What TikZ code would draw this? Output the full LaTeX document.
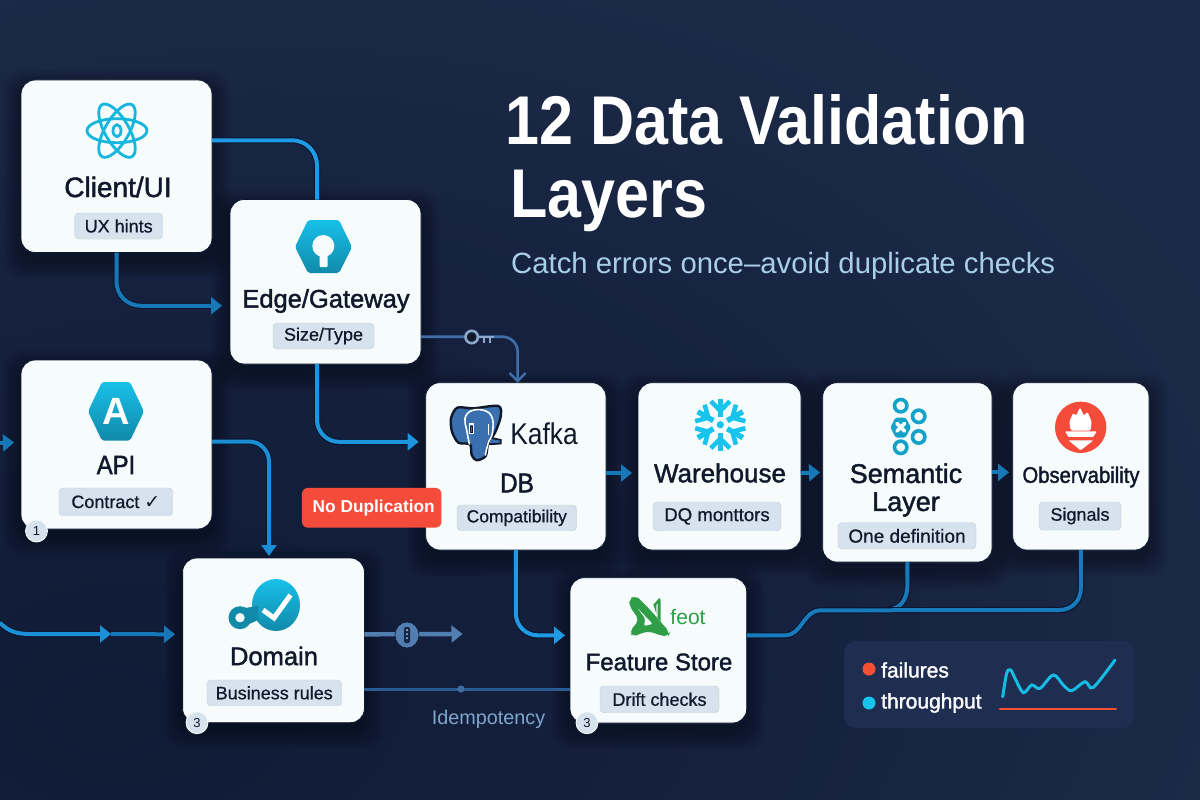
\documentclass[tikz,border=0pt]{standalone}
\usepackage{fontspec}
\setmainfont{Liberation Sans}
\newfontfamily\lab[FakeBold=1.6]{Liberation Sans}
\newfontfamily\labn[FakeBold=1.6,FakeStretch=.9]{Liberation Sans}
\newfontfamily\chipf[FakeBold=.6]{Liberation Sans}
\newfontfamily\titlef[FakeStretch=.885]{Liberation Sans}
\newfontfamily\kaf[FakeStretch=.88]{Liberation Sans}
\newfontfamily\symf{DejaVu Sans}
\usetikzlibrary{calc,arrows.meta,shapes.geometric}
\definecolor{cardc}{HTML}{F6FBFC}
\definecolor{inkc}{HTML}{10182B}
\definecolor{chipc}{HTML}{D6E3EE}
\definecolor{edgec}{HTML}{0C1730}
\definecolor{wa}{HTML}{1E9BE4}
\definecolor{wb}{HTML}{1678B6}
\definecolor{wc}{HTML}{3F6EA8}
\definecolor{wd}{HTML}{2A5A92}
\definecolor{cyanc}{HTML}{18C3EC}
\definecolor{tealc}{HTML}{14A2C8}
\definecolor{redc}{HTML}{F44B3A}
\definecolor{greenc}{HTML}{2F9E46}
\definecolor{pgblue}{HTML}{3A6FB0}
\definecolor{subc}{HTML}{A9CFE8}
\definecolor{idemc}{HTML}{7EA6CC}
\definecolor{panelc}{HTML}{1F2D50}
\pgfdeclareradialshading{bgrad}{\pgfpoint{-21bp}{-20bp}}{%
 rgb(0bp)=(0.062,0.105,0.210);rgb(20bp)=(0.080,0.125,0.240);rgb(40bp)=(0.105,0.165,0.280);rgb(100bp)=(0.112,0.175,0.295)}
\tikzset{
 card/.style={draw=edgec,line width=.8pt,fill=cardc,rounded corners=14pt,inner sep=0pt,outer sep=0pt},
 title/.style={text=inkc,inner sep=0pt,align=center},
 chipstyle/.style={draw=chipc!90!black,line width=.4pt,fill=chipc,rounded corners=4pt,inner sep=0pt,outer sep=0pt,text=inkc,font=\chipf\fontsize{18}{20}\selectfont},
 wire/.style={draw=#1,line width=4pt,preaction={draw=edgec,line width=6.4pt}},
 arrowed/.style={-{Triangle[length=11pt,width=17pt]}},
 badge/.style={circle,fill=chipc,draw=cardc,line width=.8pt,minimum size=22pt,inner sep=0pt,text=inkc,font=\fontsize{13}{14}\selectfont},
 hexfill/.style={top color=cyanc!90!tealc,bottom color=tealc!85!black,draw=none,rounded corners=2pt},
 ringst/.style={draw=tealc,line width=3.6pt},
}
\newcommand\cardbox[5]{\node[card,minimum width={(#4-#2)*1pt},minimum height={(#5-#3)*1pt}] (#1) at ({(#2+#4)/2},{(#3+#5)/2}) {};}
\newcommand\chipbox[6]{\node[chipstyle,minimum width={(#4-#2)*1pt},minimum height={(#5-#3)*1pt}] (#1) at ({(#2+#4)/2},{(#3+#5)/2}) {#6};}
\begin{document}
\begin{tikzpicture}[x=1pt,y=-1pt]
\useasboundingbox (0,0) rectangle (1200,800);
\shade[shading=bgrad] (0,0) rectangle (1200,800);
\foreach \xa/\ya/\xb/\yb in {21/80/212/252.5,230/199.5/421/364,21/360/212/529,182.6/558/364.4/722.7,425.7/382.7/606/550,638/382.7/801/550,822.7/382.7/992/562,1012.7/382.7/1149/550,570/577.7/746.7/723}
 \foreach \k in {1,...,9}
  \fill[black,opacity=.04,rounded corners=18pt] ({\xa-\k*2},{\ya-\k*2+8}) rectangle ({\xb+\k*2},{\yb+\k*2+8});
% cards
\cardbox{client}{21}{80}{212}{252.5}
\cardbox{edge}{230}{199.5}{421}{364}
\cardbox{api}{21}{360}{212}{529}
\cardbox{domain}{182.6}{558}{364.4}{722.7}
\cardbox{db}{425.7}{382.7}{606}{550}
\cardbox{wh}{638}{382.7}{801}{550}
\cardbox{sem}{822.7}{382.7}{992}{562}
\cardbox{obs}{1012.7}{382.7}{1149}{550}
\cardbox{feat}{570}{577.7}{746.7}{723}
% titles
\node[anchor=base west,inner sep=0pt,text=white,font=\titlef\bfseries\fontsize{69}{70}\selectfont] (t1) at (505,144) {12 Data Validation};
\node[anchor=base west,inner sep=0pt,text=white,font=\titlef\bfseries\fontsize{69}{70}\selectfont] (t2) at (510,217) {Layers};
\node[anchor=base west,inner sep=0pt,text=subc,font=\fontsize{29.3}{30}\selectfont] (t3) at (511,273) {Catch errors once–avoid duplicate checks};
% labels
\node[title,font=\lab\fontsize{28}{30}\selectfont] (l1) at (118,187) {Client/UI};
\node[title,font=\lab\fontsize{25.5}{30}\selectfont] (l2) at (326,301) {Edge/Gateway};
\node[title,font=\labn\fontsize{26.5}{30}\selectfont] (l3) at (116,465) {API};
\node[title,font=\lab\fontsize{25.5}{30}\selectfont] (l4) at (274,656) {Domain};
\node[title,font=\labn\fontsize{27}{30}\selectfont] (l5) at (517,483) {DB};
\node[title,font=\lab\fontsize{26}{30}\selectfont] (l6) at (720,473) {Warehouse};
\node[title,font=\lab\fontsize{27}{28}\selectfont] (l7) at (906,490) {Semantic\\Layer};
\node[title,font=\labn\fontsize{22.5}{26}\selectfont] (l8) at (1081,477) {Observability};
\node[title,font=\lab\fontsize{24}{28}\selectfont] (l9) at (659,662) {Feature Store};
% chips
\chipbox{c1}{74.7}{213}{162.7}{239}{UX hints}
\chipbox{c2}{273}{323}{374}{349}{Size/Type}
\chipbox{c3}{59}{488}{172.7}{515.7}{Contract {\symf\fontsize{19}{20}\selectfont ✓}}
\chipbox{c4}{207}{680}{341.5}{705.7}{Business rules}
\chipbox{c5}{457}{505}{576.5}{530.7}{\fontsize{17.5}{20}\selectfont Compatibility}
\chipbox{c6}{653}{502}{781}{530.7}{\fontsize{18.6}{20}\selectfont DQ monttors}
\chipbox{c7}{838}{522.7}{976}{549}{\fontsize{19}{20}\selectfont One definition}
\chipbox{c8}{1039}{502}{1121}{530}{Signals}
\chipbox{c9}{600}{686}{719}{712.7}{Drift checks}
% connectors
\coordinate (a1) at ([shift={(0,-26)}]client.east);
\coordinate (a2) at ([shift={(-8.5,0)}]edge.north);
\draw[wire=wa,rounded corners=25pt] (a1) -| (a2);
\coordinate (b2) at ([shift={(-8,24)}]edge.west);
\draw[wire=wb,arrowed,rounded corners=24pt] (client.south) |- (b2);
\coordinate (c1s) at ([shift={(0,55)}]edge.east);
\coordinate (c1e) at ([shift={(1.8,0)}]db.north);
\draw[draw=wc,line width=2.6pt,-{Straight Barb[length=8pt,width=16pt,line width=2.4pt]},rounded corners=15pt] (c1s) -| (c1e);
\coordinate (d1) at ([shift={(-8.5,0)}]edge.south);
\coordinate (d2) at ([shift={(-7,-24.5)}]db.west);
\draw[wire=wa!85!wb,arrowed,rounded corners=22pt] (d1) |- (d2);
\coordinate (e0) at (0,443);
\coordinate (e1) at ([shift={(-7,-2)}]api.west);
\draw[wire=wb,arrowed] (e0) -- (e1);
\coordinate (f1) at ([shift={(0,-3)}]api.east);
\coordinate (f2) at ([shift={(-4.5,-2)}]domain.north);
\draw[wire=wa!60!wb,-{Triangle[length=11pt,width=15pt]},rounded corners=20pt] (f1) -| (f2);
\coordinate (g0) at (0,622.7);
\coordinate (g1) at (111,634);
\coordinate (g2) at ([shift={(-7.6,-6)}]domain.west);
\draw[wire=wb,arrowed] (g1) -- (g2);
\draw[wire=wa!70!wb,arrowed] (g0) .. controls (8,631) and (16,634) .. (30,634) -- (g1);
\coordinate (h1) at ([shift={(0,-6)}]domain.east);
\coordinate (h2) at (462.5,634);
\draw[draw=wc!90!white,line width=4.4pt,arrowed] (h1) -- (h2);
\node[ellipse,fill=wc!90!white,draw=edgec,line width=.6pt,minimum width=24pt,minimum height=26pt,inner sep=0pt] (hb) at (407,635) {};
\fill[edgec!80!wc,rounded corners=2pt] (404,627) rectangle (410,643);
\fill[cardc!70!wc] (407,630) circle (1) (407,634) circle (1) (407,638) circle (1);
\coordinate (i1) at ([shift={(0,49)}]domain.east);
\draw[draw=wd,line width=3pt] (i1) -- (i1 -| feat.west);
\fill[wd!90!white] (461,689) circle (3.6);
\node[inner sep=0pt,text=idemc,font=\fontsize{19.8}{22}\selectfont] (idem) at (488.5,719) {Idempotency};
\coordinate (j2) at ([shift={(-5,-15)}]feat.west);
\draw[wire=wa,arrowed,rounded corners=22pt] (db.south) |- (j2);
\coordinate (k1) at ([shift={(0,6.7)}]db.east);
\coordinate (k2) at ([shift={(-6,6.7)}]wh.west);
\draw[wire=wb,arrowed] (k1) -- (k2);
\coordinate (m1) at ([shift={(0,6.7)}]wh.east);
\coordinate (m2) at ([shift={(-2.7,0)}]sem.west);
\draw[wire=wb,arrowed] (m1) -- (m2);
\coordinate (n1) at (sem.east);
\coordinate (n2) at ([shift={(-3.7,6)}]obs.west);
\draw[wire=wb,arrowed] (n1) -- (n2);
\draw[wire=wb!90!wa] (sem.south) -- ($(sem.south)+(0,22)$) .. controls ($(sem.south)+(0,40)$) and ($(sem.south)+(-8,48)$) .. ($(sem.south)+(-24,48)$);
\coordinate (p1) at ([shift={(0,-15)}]feat.east);
\draw[wire=wb!90!wa] (p1) -- ($(p1)+(38,0)$) .. controls ($(p1)+(56,0)$) and ($(p1)+(56,-25)$) .. ($(p1)+(74,-25)$) -- ($(obs.south)+(-22,60)$) .. controls ($(obs.south)+(-8,60)$) and ($(obs.south)+(0,50)$) .. ($(obs.south)+(0,38)$) -- (obs.south);
% key on wire
\draw[draw=wc!60!white,line width=2.6pt,fill=edgec!50!wc!40!black] (471.7,337) circle (6.2);
\draw[draw=wc!60!white,line width=2.4pt] (478,337) -- (494,337) (484,337) -- (484,343) (490,337) -- (490,343);
% no duplication
\node[fill=redc,rounded corners=6pt,inner sep=0pt,minimum width=139.5pt,minimum height=39.7pt,text=white,font=\bfseries\fontsize{17.3}{20}\selectfont] (nodup) at (371.7,507.8) {\hspace{4pt}No Duplication};
% badges
\node[badge] (b1) at (36.5,531) {1};
\node[badge] (b3) at (197,722.7) {3};
\node[badge] (b4) at (587,722.7) {3};
% atom icon
\foreach \ang in {0,60,120}
 \draw[draw=tealc!40!cyanc,line width=2.8pt,rotate around={\ang:(117,130.7)}] (117,130.7) ellipse (30 and 12);
\draw[draw=tealc!40!cyanc,line width=2.8pt] (117,130.7) ellipse (4 and 6);
% keyhole hex
\shade[hexfill] (295,247) -- (308,220) -- (339,220) -- (352,247) -- (339,273) -- (308,273) -- cycle;
\fill[cardc] (323.3,246) circle (11);
\fill[cardc,rounded corners=1pt] (319.5,250) rectangle (327.5,267);
% API hex
\shade[hexfill] (88,411.5) -- (102,382) -- (130,382) -- (144,411.5) -- (130,440.7) -- (102,440.7) -- cycle;
\node[inner sep=0pt,text=white,font=\bfseries\fontsize{38}{40}\selectfont] (apia) at (116,411) {A};
% domain icon
\shade[top color=cyanc!90!tealc,bottom color=tealc!85!black] (276,605) ellipse (24 and 26);
\fill[tealc!85!black] (240,617.7) circle (11.5);
\fill[tealc!85!black] (245,608) -- (258,606) -- (258,620) -- (245,626) -- cycle;
\fill[cardc] (240,617.7) circle (4.7);
\draw[white,line width=5pt] (263,610) -- (274,618) -- (290.5,595);
% elephant
\begin{scope}[shift={(420,320)},x=.3333pt,y=-.3333pt]
\draw[draw=inkc,line width=2.4pt,fill=pgblue,line join=round] plot[smooth cycle,tension=.5] coordinates {(93,295) (112,263) (160,265) (235,258) (242,290) (225,338) (205,368) (197,408) (170,421) (155,405) (150,373) (115,368) (96,335)};
\fill[inkc] (210,350) -- (245,358) -- (245,373) -- (200,376) -- cycle;
\fill[pgblue] (214,357) -- (240,362) -- (240,368) -- (208,370) -- cycle;
\draw[white,line width=1.6pt,line cap=round] plot[smooth,tension=.7] coordinates {(148,372) (140,330) (135,295) (155,272) (195,272) (217,295) (217,340) (205,368) (196,405)};
\draw[white,line width=1.3pt] (148,312) rectangle (160,340);
\draw[white,line width=1.3pt] (205,312) -- (205,345);
\draw[inkc,line width=.8pt] (152,318) rectangle (157,336);
\end{scope}
\node[inner sep=0pt,text=inkc,font=\kaf\fontsize{30}{32}\selectfont] (kafka) at (544,434) {Kafka};
% snowflake
\foreach \ang in {0,60,...,300}{
 \begin{scope}[shift={(720.3,424.7)},rotate=\ang]
  \draw[cyanc,line width=5.4pt] (0,-8) -- (0,-26);
  \draw[cyanc,line width=4.6pt] (-9.5,-23.5) -- (0,-14) -- (9.5,-23.5);
 \end{scope}
}
\fill[cardc] (720.3,424.7) circle (6.5);
\fill[cyanc] (720.3,424.7) circle (3.6);
% semantic rings
\foreach \pp in {(900.7,405.7),(918.7,416.3),(918.7,437),(900.7,447.3)}
 \draw[ringst] \pp circle (6.2);
\fill[tealc,rounded corners=1.5pt] (890.5,427.3) -- (895.5,417.5) -- (905.5,417.5) -- (911,427.3) -- (905.5,437.5) -- (895.5,437.5) -- cycle;
\draw[cardc,line width=3.6pt,line cap=round] (897,423.5) -- (904.5,431) (904.5,423.5) -- (897,431);
% prometheus
\fill[redc] (1080.7,427.3) circle (25.7);
\begin{scope}[shift={(1040,390)},x=.3333pt,y=-.3333pt]
\fill[white,rounded corners=1.5pt] (92,122) -- (88,95) -- (100,68) -- (108,78) -- (120,52) -- (132,78) -- (142,65) -- (155,95) -- (152,122) -- cycle;
\fill[white,rounded corners=1pt] (75,124) -- (170,124) -- (160,141) -- (85,141) -- cycle;
\fill[white,rounded corners=1pt] (85,151) -- (160,151) -- (122,181) -- cycle;
\end{scope}
% feast logo
\begin{scope}[shift={(620,590)},x=.3333pt,y=-.3333pt]
\fill[greenc,rounded corners=5pt] (28,28) -- (45,16) -- (62,30) -- (100,70) -- (150,128) -- (145,138) -- (125,138) -- (90,124) -- (60,130) -- (40,142) -- (28,125) -- (58,90) -- (28,48) -- cycle;
\fill[cardc,rounded corners=2pt] (52,54) -- (98,102) -- (72,108) -- (76,86) -- cycle;
\fill[greenc] (100,44) -- (118,24) -- (122,30) -- (122,95) -- (114,85) -- cycle;
\fill[cardc] (109,45) -- (113,41) -- (113,78) -- (109,74) -- cycle;
\end{scope}
\node[inner sep=0pt,text=greenc,font=\fontsize{21}{22}\selectfont] (feot) at (688,617) {feot};
% legend
\fill[panelc,rounded corners=12pt] (844,641) rectangle (1134,728);
\fill[redc!90!orange] (869,669) circle (6.5);
\fill[cyanc] (869,703) circle (6.5);
\node[anchor=west,inner sep=0pt,text=white!90!chipc,font=\lab\fontsize{21}{22}\selectfont] (fl) at (881,670) {failures};
\node[anchor=west,inner sep=0pt,text=white!90!chipc,font=\lab\fontsize{21}{22}\selectfont] (tl) at (881,703) {throughput};
\draw[cyanc!80!tealc,line width=3pt,line cap=round] plot[smooth,tension=.55] coordinates {(1002.7,696.7) (1006.7,673.3) (1010.7,670) (1015,678.3) (1023.3,692.7) (1031.7,685) (1040,688.3) (1053.3,675) (1063.3,685) (1071.7,690.7) (1085,681.7) (1093.3,687.3) (1115,660)};
\draw[redc!90!orange,line width=2.6pt,line cap=round] (1000,709) -- (1115.7,709);
\end{tikzpicture}
\end{document}
